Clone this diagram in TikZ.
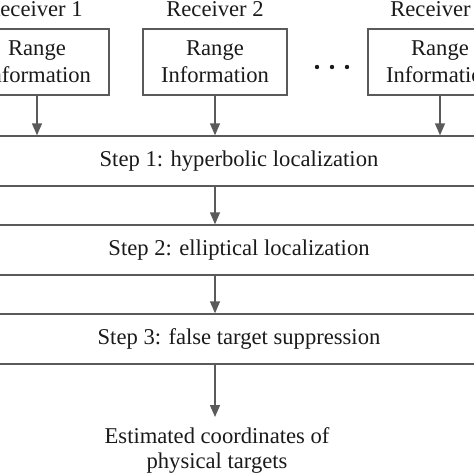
\documentclass[tikz,border=0pt]{standalone}
\usepackage{fontspec}
\setmainfont{Liberation Serif}
\usetikzlibrary{arrows.meta,positioning}
\definecolor{linegray}{HTML}{5A5A5A}
\definecolor{textgray}{HTML}{1A1A1A}
\begin{document}
\begin{tikzpicture}[x=1pt,y=-1pt,font=\fontsize{22.6}{27}\selectfont,text=textgray,
  rangebox/.style={draw=linegray,line width=1.4pt,minimum width=144pt,minimum height=66pt,align=center,inner sep=0pt},
  stepbox/.style={draw=linegray,line width=1.4pt,minimum width=560pt,minimum height=50pt,inner sep=0pt},
  arr/.style={draw=linegray,line width=1.4pt,-{Triangle[width=10pt,length=12pt]}}]
\useasboundingbox (0,0) rectangle (474,474);
\clip (0,0) rectangle (474,474);
% receivers
\node [rangebox] (r1) at (37,62) {Range\\Information};
\node [rangebox] (r2) at (215,62) {Range\\Information};
\node [rangebox] (r3) at (440,62) {Range\\Information};
\node (rec1) at (34,9) {Receiver 1};
\node (rec2) at (215,9) {Receiver 2};
\node (rec3) at (439,9) {Receiver 3};
\fill [textgray] (317,67) circle (2.2) (332,67) circle (2.2) (347,67) circle (2.2);
% steps
\node [stepbox] (s1) at (239,161) {Step 1: hyperbolic localization};
\node [stepbox] (s2) at (239,250) {Step 2: elliptical localization};
\node [stepbox] (s3) at (239,339) {Step 3: false target suppression};
\node [anchor=north,align=center,inner xsep=0pt,inner ysep=10pt,font=\fontsize{22.6}{25}\selectfont] (est) at (217,417) {Estimated coordinates of\\physical targets};
\draw [arr] (r1.south) -- (r1.south |- s1.north);
\draw [arr] (r2.south) -- (r2.south |- s1.north);
\draw [arr] (r3.south) -- (r3.south |- s1.north);
\draw [arr] (r2.south |- s1.south) -- (r2.south |- s2.north);
\draw [arr] (r2.south |- s2.south) -- (r2.south |- s3.north);
\draw [arr] (r2.south |- s3.south) -- (r2.south |- est.north);
\end{tikzpicture}
\end{document}
